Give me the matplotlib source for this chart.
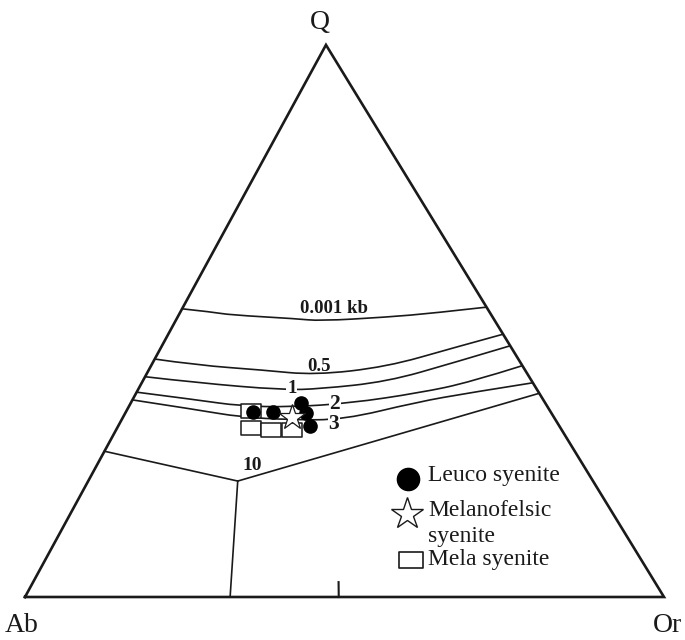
import numpy as np
import matplotlib
matplotlib.use('Agg')
from matplotlib import pyplot as plt
from matplotlib.path import Path
from matplotlib.patches import PathPatch

plt.rcParams['font.family'] = ['Liberation Serif', 'DejaVu Serif']

# ternary frame: Ab at left, Or at right, Q at top (slightly leaning, as drawn)
apex_x = 0.471
apex_h = 0.864

# isobaric minimum curves, values as (Q, Or) in %
q_0001 = [52.2, 51.6, 51.1, 50.4, 50.0, 50.7, 51.4, 52.5]
or_0001 = [0.0, 5.1, 8.0, 18.8, 22.6, 32.8, 39.6, 47.5]
q_05 = [43.1, 42.0, 41.1, 40.2, 41.7, 45.1, 47.6]
or_05 = [0.0, 7.1, 17.9, 26.4, 37.0, 45.7, 52.4]
q_1 = [39.9, 38.8, 37.5, 37.7, 39.0, 42.4, 45.5]
or_1 = [0.0, 8.7, 22.7, 28.4, 38.3, 47.0, 54.5]
q_2 = [37.1, 35.7, 34.6, 34.4, 35.1, 37.0, 38.9, 41.9]
or_2 = [0.0, 10.1, 17.3, 25.3, 34.3, 44.4, 51.3, 58.1]
q_3 = [35.7, 33.9, 32.6, 32.1, 32.1, 35.3, 37.0, 38.8]
or_3 = [0.0, 11.0, 18.3, 26.4, 34.7, 44.7, 52.2, 61.2]

# 10 kb field boundaries
q_10_left = [26.4, 21.0]
or_10_left = [0.0, 23.4]
q_10_right = [21.0, 36.9]
or_10_right = [23.4, 63.1]
q_10_down = [21.0, 0.0]
or_10_down = [23.4, 32.1]

# curve labels (text, Q, Or)
curve_labels = ['0.001 kb', '0.5', '1', '2', '3', '10']
label_q = [52.2, 41.8, 37.7, 35.0, 31.3, 23.9]
label_or = [23.8, 26.3, 24.0, 32.0, 33.6, 24.3]

# samples (Q, Or)
leuco_q = [33.5, 33.5, 35.1, 33.3, 31.0]
leuco_or = [19.9, 23.0, 26.6, 28.3, 30.0]
melanofelsic_q = [32.6]
melanofelsic_or = [26.4]
mela_q = [33.7, 30.6, 30.3, 30.3]
mela_or = [19.5, 20.9, 24.2, 27.5]

ink = '#1a1a1a'


def tern(q, o):
    q = np.asarray(q, float) / 100.0
    o = np.asarray(o, float) / 100.0
    return o + apex_x * q, apex_h * q


def smooth_path(x, y):
    # quadratic bezier chain: read points act as controls, ends are kept
    pts = np.column_stack([x, y])
    if len(pts) < 3:
        return Path(pts)
    verts = [pts[0]]
    codes = [Path.MOVETO]
    for i in range(1, len(pts) - 1):
        end = pts[-1] if i == len(pts) - 2 else (pts[i] + pts[i + 1]) / 2
        verts += [pts[i], end]
        codes += [Path.CURVE3, Path.CURVE3]
    return Path(verts, codes)


fig = plt.figure(figsize=(6.85, 6.4), dpi=100)
ax = fig.add_axes([0, 0, 1, 1])
ax.set_xlim(-25 / 639, 660 / 639)
ax.set_ylim(-43 / 639, 597 / 639)
ax.axis('off')

# triangle and ticks
tx, ty = tern([0, 0, 100, 0], [0, 100, 0, 0])
ax.plot(tx, ty, color=ink, lw=1.9, solid_joinstyle='miter', zorder=3)
kx, ky = tern([0, 2.7], [49.1, 47.8])
ax.plot(kx, ky, color=ink, lw=1.5)

for q, o in [(q_0001, or_0001), (q_05, or_05), (q_1, or_1), (q_2, or_2), (q_3, or_3)]:
    x, y = tern(q, o)
    ax.add_patch(PathPatch(smooth_path(x, y), facecolor='none', edgecolor=ink,
                           lw=1.2, zorder=2))

for q, o in [(q_10_left, or_10_left), (q_10_right, or_10_right), (q_10_down, or_10_down)]:
    x, y = tern(q, o)
    ax.plot(x, y, color=ink, lw=1.2, zorder=2)

sizes = [13.5, 13.5, 13.5, 15.5, 15.5, 14]
for i, txt in enumerate(curve_labels):
    x, y = tern(label_q[i], label_or[i])
    bb = dict(facecolor='white', edgecolor='none', pad=0.5) if txt in ('1', '2', '3') else None
    ax.text(x, y, txt, fontsize=sizes[i], fontweight='bold', ha='center',
            va='center', color=ink, bbox=bb, zorder=3)

rect = Path([(-1, -0.68), (1, -0.68), (1, 0.68), (-1, 0.68), (-1, -0.68)],
            [Path.MOVETO, Path.LINETO, Path.LINETO, Path.LINETO, Path.CLOSEPOLY])

x, y = tern(mela_q, mela_or)
ax.plot(x, y, ls='none', marker=rect, ms=14, mfc='white', mec=ink, mew=1.1, zorder=4)
x, y = tern(leuco_q, leuco_or)
ax.plot(x, y, ls='none', marker='o', ms=9.5, mfc='black', mec='black', zorder=5)
x, y = tern(melanofelsic_q, melanofelsic_or)
ax.plot(x, y, ls='none', marker='*', ms=19, mfc='white', mec=ink, mew=0.9, zorder=6)

# legend
tr = ax.transAxes
ax.plot([0.5956], [0.2516], transform=tr, marker='o', ms=16, color='black', ls='none')
ax.plot([0.5942], [0.1969], transform=tr, marker='*', ms=24, mfc='white',
        mec=ink, mew=1.0, ls='none')
ax.plot([0.600], [0.125], transform=tr, marker=rect, ms=17.5, mfc='white',
        mec=ink, mew=1.2, ls='none')
ax.text(0.6248, 0.2578, 'Leuco syenite', transform=tr, fontsize=17, va='center', color=ink)
ax.text(0.6248, 0.2031, 'Melanofelsic', transform=tr, fontsize=17, va='center', color=ink)
ax.text(0.6248, 0.1610, 'syenite', transform=tr, fontsize=17, va='center', color=ink)
ax.text(0.6248, 0.1250, 'Mela syenite', transform=tr, fontsize=17, va='center', color=ink)

# apex labels
ax.text(0.467, 0.9547, 'Q', transform=tr, fontsize=20, ha='center', va='baseline', color=ink)
ax.text(0.0073, 0.012, 'Ab', transform=tr, fontsize=20, ha='left', va='baseline', color=ink)
ax.text(0.9956, 0.012, 'Or', transform=tr, fontsize=20, ha='right', va='baseline', color=ink)

fig.savefig('out.png', dpi=100)
